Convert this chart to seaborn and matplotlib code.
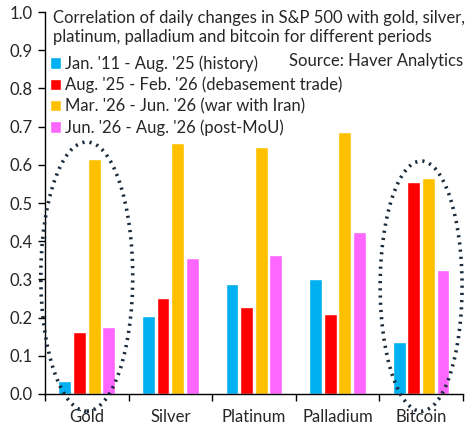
import numpy as np
import pandas as pd
import seaborn as sns
import matplotlib.pyplot as plt
from matplotlib.patches import Ellipse
from matplotlib.ticker import FixedLocator

# ============================================
# data
# ============================================
metals = ["Gold", "Silver", "Platinum", "Palladium", "Bitcoin"]
periods = [
    "Jan. '11 - Aug. '25 (history)",
    "Aug. '25 - Feb. '26 (debasement trade)",
    "Mar. '26 - Jun. '26 (war with Iran)",
    "Jun. '26 - Aug. '26 (post-MoU)",
]
history = [0.034, 0.204, 0.288, 0.301, 0.136]
debasement = [0.162, 0.251, 0.228, 0.209, 0.555]
war_iran = [0.615, 0.657, 0.647, 0.686, 0.565]
post_mou = [0.175, 0.357, 0.364, 0.424, 0.325]
highlighted = ["Gold", "Bitcoin"]

colors = ["#00B0F0", "#FF0000", "#FFC000", "#FF66FF"]

df = pd.DataFrame({
    "metal": metals * 4,
    "period": np.repeat(periods, len(metals)),
    "corr": history + debasement + war_iran + post_mou,
})

sns.set_style("ticks")
plt.rcParams["font.family"] = ["Lato", "DejaVu Sans"]

fig = plt.figure(figsize=(4.76, 4.32), dpi=100)
ax = fig.add_axes([0.0945, 0.088, 0.878, 0.884])

sns.barplot(data=df, x="metal", y="corr", hue="period", order=metals,
            hue_order=periods, palette=colors, width=0.7, gap=0.12,
            saturation=1, ax=ax)

ax.set_ylim(0, 1.0)
ax.set_xlim(-0.5, len(metals) - 0.5)
ax.set_yticks(np.arange(0, 1.01, 0.1))
ax.set_yticklabels([f"{v:.1f}" for v in np.arange(0, 1.01, 0.1)], fontsize=12)
ax.set_xlabel("")
ax.set_ylabel("")
ax.tick_params(axis="x", which="major", length=0, labelsize=12, pad=11)
ax.xaxis.set_minor_locator(FixedLocator(np.arange(-0.5, len(metals), 1.0)))
ax.tick_params(axis="x", which="minor", length=5, width=1, color="black")
ax.tick_params(axis="y", length=5, width=1, color="black", pad=4)
for s in ["top", "right"]:
    ax.spines[s].set_visible(False)
for s in ["left", "bottom"]:
    ax.spines[s].set_color("black")
    ax.spines[s].set_linewidth(1)

# dotted ellipses round Gold and Bitcoin
for name in highlighted:
    i = metals.index(name)
    vals = [history[i], debasement[i], war_iran[i], post_mou[i]]
    w = 1.1 if name == "Gold" else 0.98
    e = Ellipse((i, max(vals) / 2), w, max(vals) + 0.09, fill=False,
                edgecolor="#1B2B3A", lw=2.6, linestyle=(0, (0.6, 1.4)),
                clip_on=False, zorder=5)
    ax.add_patch(e)

ax.text(0.018, 1.005, "Correlation of daily changes in S&P 500 with gold, silver,\n"
        "platinum, palladium and bitcoin for different periods",
        transform=ax.transAxes, ha="left", va="top", fontsize=12,
        linespacing=1.25)
ax.text(1.0, 0.873, "Source: Haver Analytics", transform=ax.transAxes,
        ha="right", va="center", fontsize=12)

handles, labels = ax.get_legend_handles_labels()
ax.legend(handles, labels, loc="upper left", bbox_to_anchor=(-0.005, 0.905),
          frameon=False, fontsize=12, handlelength=0.7, handleheight=0.7,
          handletextpad=0.25, labelspacing=0.3, borderaxespad=0)

plt.savefig("out.png", dpi=100)
